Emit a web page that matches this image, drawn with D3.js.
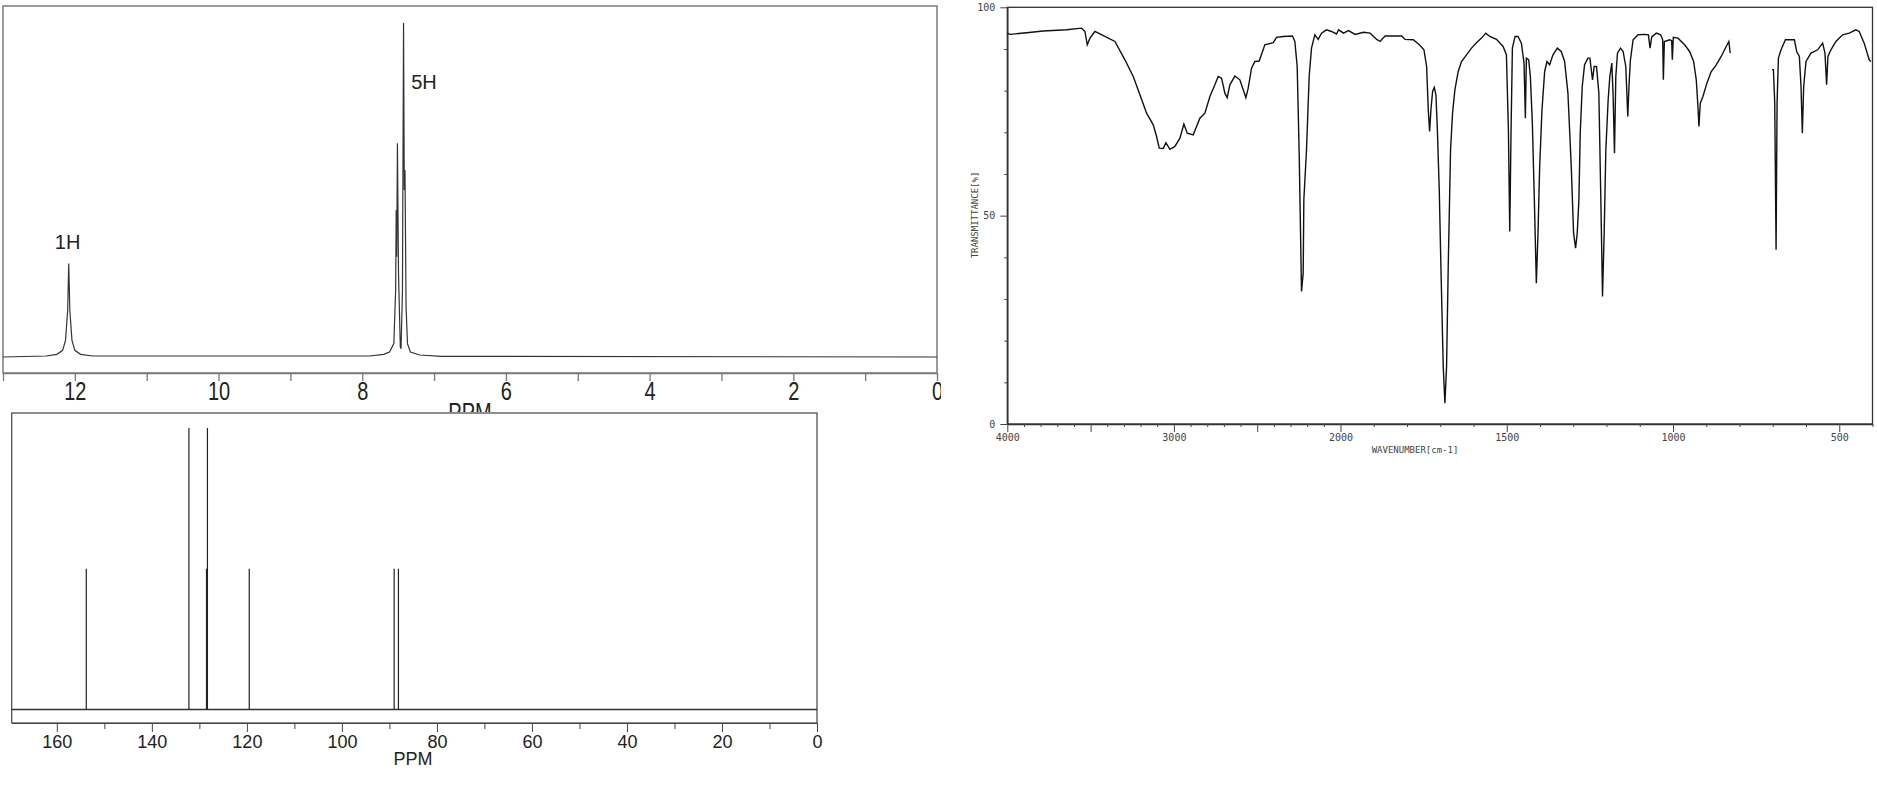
<!DOCTYPE html>
<html>
<head>
<meta charset="utf-8">
<script src="https://cdn.jsdelivr.net/npm/d3@7"></script>
<style>
  body { margin: 0; background: #fff; }
  svg { display: block; }
</style>
</head>
<body>
<svg id="chart" width="1877" height="791"></svg>
<script>
  // 1H NMR trace (ppm, relative intensity)
  var hPpm = [13.0, 12.40, 12.25, 12.17, 12.13, 12.10, 12.085, 12.07, 12.04, 12.00, 11.92, 11.75,
    7.90, 7.70, 7.62, 7.56, 7.535, 7.527, 7.52, 7.51, 7.495, 7.47, 7.46, 7.44, 7.425, 7.415,
    7.405, 7.39, 7.37, 7.33, 7.20, 6.90, 0.0];
  var hIntensity = [0, 0.3, 0.8, 2, 5, 14, 28, 14, 5, 2, 0.8, 0.3,
    0.3, 0.8, 1.5, 4, 20, 44, 30, 64, 25, 3, 2.5, 20, 100, 50,
    56, 15, 4, 1.5, 0.6, 0.2, 0];
  var hLabelText = ['1H', '5H'];
  var hLabelPpm = [12.10, 7.14];
  var hLabelLevel = [32.3, 80.2];
  var hTickLabels = [12, 10, 8, 6, 4, 2, 0];

  // 13C NMR stick lines
  var cPpm = [153.8, 132.2, 128.5, 128.3, 119.5, 89.0, 88.1];
  var cIntensity = [50, 100, 50, 100, 50, 50, 50];
  var cTickLabels = [160, 140, 120, 100, 80, 60, 40, 20, 0];

  // IR trace, null marks the break in the recording
  var irWavenumber = [4000, 3984, 3884, 3784, 3644, 3554, 3534, 3520, 3504, 3474, 3444, 3354,
    3294, 3244, 3204, 3164, 3124, 3104, 3088, 3064, 3048, 3024, 2994, 2964, 2940, 2920, 2884,
    2844, 2814, 2784, 2754, 2734, 2714, 2694, 2680, 2664, 2634, 2604, 2584, 2568, 2554, 2534,
    2514, 2488, 2454, 2404, 2384, 2344, 2288, 2274, 2260, 2248, 2234, 2224, 2220, 2204, 2188,
    2174, 2154, 2134, 2114, 2084, 2054, 2024, 2011, 1991, 1976, 1956, 1931, 1911, 1891, 1881,
    1866, 1816, 1806, 1781, 1763, 1749, 1741, 1736, 1732, 1728, 1723, 1718, 1713, 1709, 1703,
    1698, 1691, 1686, 1681, 1676, 1669, 1663, 1656, 1646, 1636, 1621, 1606, 1591, 1576, 1563,
    1551, 1531, 1511, 1501, 1495, 1491, 1487, 1483, 1475, 1466, 1456, 1448, 1444, 1441, 1434,
    1429, 1423, 1417, 1411, 1406, 1401, 1394, 1386, 1379, 1371, 1361, 1348, 1336, 1326, 1316,
    1306, 1299, 1293, 1288, 1283, 1279, 1273, 1266, 1256, 1250, 1242, 1237, 1230, 1223, 1217,
    1212, 1207, 1202, 1195, 1190, 1184, 1180, 1176, 1172, 1167, 1158, 1150, 1142, 1136, 1132,
    1128, 1120, 1105, 1085, 1074, 1069, 1064, 1050, 1037, 1031, 1029, 1026, 1010, 1004, 1002,
    999, 985, 965, 950, 938, 930, 925, 922, 918, 910, 898, 885, 870, 855, 840, 832, 828,
    760,
    702, 698, 694, 690, 687, 683, 675, 662, 635, 628, 620, 615, 611, 607, 600, 585, 565, 550,
    543, 538, 534, 525, 510, 490, 470, 450, 440, 425, 410, 405];
  var irTransmittance = [93.8, 93.5, 93.9, 94.3, 94.6, 95.0, 94.2, 91.0, 92.6, 94.2, 93.6, 91.8,
    87.4, 83.4, 79.0, 74.6, 71.8, 69.0, 66.2, 66.1, 67.5, 65.9, 66.6, 68.6, 72.0, 69.8, 69.4,
    73.4, 74.6, 78.6, 81.4, 83.4, 83.0, 79.4, 78.3, 81.4, 83.5, 82.6, 80.2, 78.3, 80.6, 85.4,
    87.0, 87.1, 91.0, 91.5, 92.8, 93.0, 93.1, 91.8, 85.8, 65.0, 31.8, 36.2, 53.8, 65.8, 83.4,
    90.2, 93.4, 92.3, 93.8, 94.6, 94.2, 93.6, 94.6, 93.8, 94.4, 93.5, 94.0, 93.8, 92.3, 91.8,
    93.1, 93.1, 92.3, 92.2, 91.0, 89.8, 85.8, 75.4, 70.2, 75.4, 79.8, 80.8, 79.0, 71.4, 56.2,
    37.8, 13.8, 5.0, 13.8, 37.8, 65.8, 74.6, 80.2, 84.6, 87.0, 88.6, 90.2, 91.5, 92.6, 93.8,
    93.0, 92.3, 90.6, 88.6, 70.6, 46.2, 70.6, 90.2, 93.0, 93.0, 91.4, 86.6, 73.4, 87.8, 87.4,
    83.4, 72.2, 53.8, 33.8, 45.8, 61.8, 75.4, 84.6, 87.0, 86.2, 88.6, 90.2, 89.4, 87.0, 79.4,
    61.8, 45.8, 42.2, 45.8, 53.8, 69.8, 81.0, 86.2, 87.8, 87.8, 82.6, 85.8, 85.8, 79.4, 53.8,
    30.6, 45.8, 65.8, 77.8, 83.4, 86.6, 78.6, 65.0, 83.4, 89.0, 90.2, 89.4, 85.8, 73.8, 81.8,
    87.4, 92.2, 93.4, 93.5, 93.4, 90.2, 92.9, 93.8, 93.4, 92.2, 82.6, 91.8, 92.2, 92.0, 87.4,
    92.8, 92.6, 91.0, 89.4, 87.0, 82.6, 76.2, 71.4, 77.0, 78.6, 81.8, 84.6, 86.2, 88.2, 90.6, 91.8, 89.0,
    null,
    85.0, 85.0, 77.0, 41.8, 77.0, 87.8, 89.8, 92.2, 92.2, 89.4, 88.2, 81.0, 69.8, 81.0, 87.0, 89.0, 89.8, 91.4,
    89.0, 81.4, 88.2, 89.8, 91.8, 93.4, 93.8, 94.6, 94.2, 91.4, 87.4, 87.0];
  var irTickLabels = [4000, 3000, 2000, 1500, 1000, 500];
  var irYLabels = [0, 50, 100];

  var svg = d3.select('#chart');
  var font = 'Liberation Sans, Arial, sans-serif';
  var mono = 'DejaVu Sans Mono, monospace';

  drawProton();
  drawCarbon();
  drawInfrared();

  function drawProton () {
    var x = d3.scaleLinear().domain([13, 0]).range([3, 937]);
    var y = d3.scaleLinear().domain([0, 100]).range([357, 23]);

    svg.append('defs').append('clipPath')
        .attr('id', 'clipH')
      .append('rect')
        .attr('width', 941)
        .attr('height', 412);

    var g = svg.append('g').attr('clip-path', 'url(#clipH)');

    g.append('rect')
        .attr('x', 3).attr('y', 6)
        .attr('width', 934).attr('height', 367)
        .attr('fill', 'none')
        .attr('stroke', '#7a7a7a')
        .attr('stroke-width', 1.5);

    var axis = g.append('g')
        .attr('transform', 'translate(0,373)')
        .call(d3.axisBottom(x)
          .tickValues(d3.range(0, 14))
          .tickSize(8)
          .tickSizeOuter(0)
          .tickPadding(1)
          .tickFormat(function (d) { return hTickLabels.indexOf(d) >= 0 ? d : ''; }));
    axis.select('.domain').attr('stroke', '#7a7a7a').attr('stroke-width', 1.5);
    axis.selectAll('.tick line').attr('stroke', '#7a7a7a').attr('stroke-width', 1.3);
    axis.selectAll('.tick text')
        .attr('fill', '#222')
        .style('font-family', font)
        .style('font-size', '25px')
        .attr('transform', 'scale(0.8,1)');

    var line = d3.line()
        .x(function (d) { return x(d[0]); })
        .y(function (d) { return y(d[1]); });

    g.append('path')
        .datum(d3.zip(hPpm, hIntensity))
        .attr('d', line)
        .attr('fill', 'none')
        .attr('stroke', '#333')
        .attr('stroke-width', 1.2);

    g.selectAll('.integral')
        .data(d3.zip(hLabelText, hLabelPpm, hLabelLevel))
      .enter().append('text')
        .attr('class', 'integral')
        .attr('x', function (d) { return x(d[1]); })
        .attr('y', function (d) { return y(d[2]); })
        .attr('text-anchor', 'middle')
        .attr('fill', '#222')
        .style('font-family', font)
        .style('font-size', '20px')
        .text(function (d) { return d[0]; });

    g.append('text')
        .attr('transform', 'translate(470,421) scale(0.8,1)')
        .attr('text-anchor', 'middle')
        .attr('fill', '#222')
        .style('font-family', font)
        .style('font-size', '25px')
        .text('PPM');
  }

  function drawCarbon () {
    var x = d3.scaleLinear().domain([169.5, 0]).range([11.7, 817]);
    var y = d3.scaleLinear().domain([0, 100]).range([709.5, 428]);
    var g = svg.append('g');

    g.append('rect')
        .attr('x', 11.7).attr('y', 413)
        .attr('width', 805.3).attr('height', 310)
        .attr('fill', '#fff')
        .attr('stroke', '#444')
        .attr('stroke-width', 1.2);

    g.append('line')
        .attr('x1', x(169.5)).attr('x2', x(0))
        .attr('y1', y(0)).attr('y2', y(0))
        .attr('stroke', '#333')
        .attr('stroke-width', 1.3);

    g.selectAll('.stick')
        .data(d3.zip(cPpm, cIntensity))
      .enter().append('line')
        .attr('class', 'stick')
        .attr('x1', function (d) { return x(d[0]); })
        .attr('x2', function (d) { return x(d[0]); })
        .attr('y1', y(0))
        .attr('y2', function (d) { return y(d[1]); })
        .attr('stroke', '#222')
        .attr('stroke-width', 1.2);

    var axis = g.append('g')
        .attr('transform', 'translate(0,723)')
        .call(d3.axisBottom(x)
          .tickValues(d3.range(0, 170, 10))
          .tickSize(9)
          .tickSizeOuter(0)
          .tickPadding(3)
          .tickFormat(function (d) { return cTickLabels.indexOf(d) >= 0 ? d : ''; }));
    axis.select('.domain').attr('stroke', '#444').attr('stroke-width', 1.2);
    axis.selectAll('.tick line')
        .attr('stroke', '#444')
        .attr('y2', function (d) { return cTickLabels.indexOf(d) >= 0 ? 9 : 6; });
    axis.selectAll('.tick text')
        .attr('fill', '#222')
        .style('font-family', font)
        .style('font-size', '18px');

    g.append('text')
        .attr('x', 413).attr('y', 765)
        .attr('text-anchor', 'middle')
        .attr('fill', '#222')
        .style('font-family', font)
        .style('font-size', '18px')
        .text('PPM');
  }

  function drawInfrared () {
    // 4000-2000 is drawn at half the scale of 2000-400
    var x = d3.scaleLinear().domain([4000, 2000, 400]).range([1007.3, 1340.5, 1872.5]);
    var y = d3.scaleLinear().domain([0, 100]).range([424, 7.3]);
    var g = svg.append('g');

    g.append('rect')
        .attr('x', 1007.3).attr('y', 7.3)
        .attr('width', 865.2).attr('height', 416.7)
        .attr('fill', 'none')
        .attr('stroke', '#333')
        .attr('stroke-width', 1.3);

    var xAxis = g.append('g')
        .attr('transform', 'translate(0,424)')
        .call(d3.axisBottom(x)
          .tickValues(d3.range(400, 4001, 100))
          .tickSize(3)
          .tickSizeOuter(0)
          .tickPadding(7)
          .tickFormat(function (d) { return irTickLabels.indexOf(d) >= 0 ? d : ''; }));
    xAxis.select('.domain').attr('stroke', '#333').attr('stroke-width', 1.5);
    xAxis.selectAll('.tick line')
        .attr('stroke', '#444')
        .attr('y2', function (d) { return d % 500 === 0 ? 8 : 3; });
    xAxis.selectAll('.tick text')
        .attr('fill', '#444')
        .style('font-family', mono)
        .style('font-size', '10px');

    var yAxis = g.append('g')
        .attr('transform', 'translate(1007.3,0)')
        .call(d3.axisLeft(y)
          .tickValues(d3.range(0, 101, 10))
          .tickSize(3)
          .tickSizeOuter(0)
          .tickPadding(9)
          .tickFormat(function (d) { return irYLabels.indexOf(d) >= 0 ? d : ''; }));
    yAxis.select('.domain').attr('stroke', '#333').attr('stroke-width', 1.5);
    yAxis.selectAll('.tick line')
        .attr('stroke', '#444')
        .attr('x2', function (d) { return irYLabels.indexOf(d) >= 0 ? -7 : -3; });
    yAxis.selectAll('.tick text')
        .attr('fill', '#444')
        .style('font-family', mono)
        .style('font-size', '10px');

    g.append('text')
        .attr('x', 1415).attr('y', 453)
        .attr('text-anchor', 'middle')
        .attr('fill', '#444')
        .style('font-family', mono)
        .style('font-size', '9px')
        .text('WAVENUMBER[cm-1]');

    g.append('text')
        .attr('transform', 'translate(978,215) rotate(-90)')
        .attr('text-anchor', 'middle')
        .attr('fill', '#444')
        .style('font-family', mono)
        .style('font-size', '9px')
        .text('TRANSMITTANCE[%]');

    var line = d3.line()
        .defined(function (d) { return d[1] !== null; })
        .x(function (d) { return x(d[0]); })
        .y(function (d) { return y(d[1]); });

    g.append('path')
        .datum(d3.zip(irWavenumber, irTransmittance))
        .attr('d', line)
        .attr('fill', 'none')
        .attr('stroke', '#111')
        .attr('stroke-width', 1.4);
  }
</script>
</body>
</html>
